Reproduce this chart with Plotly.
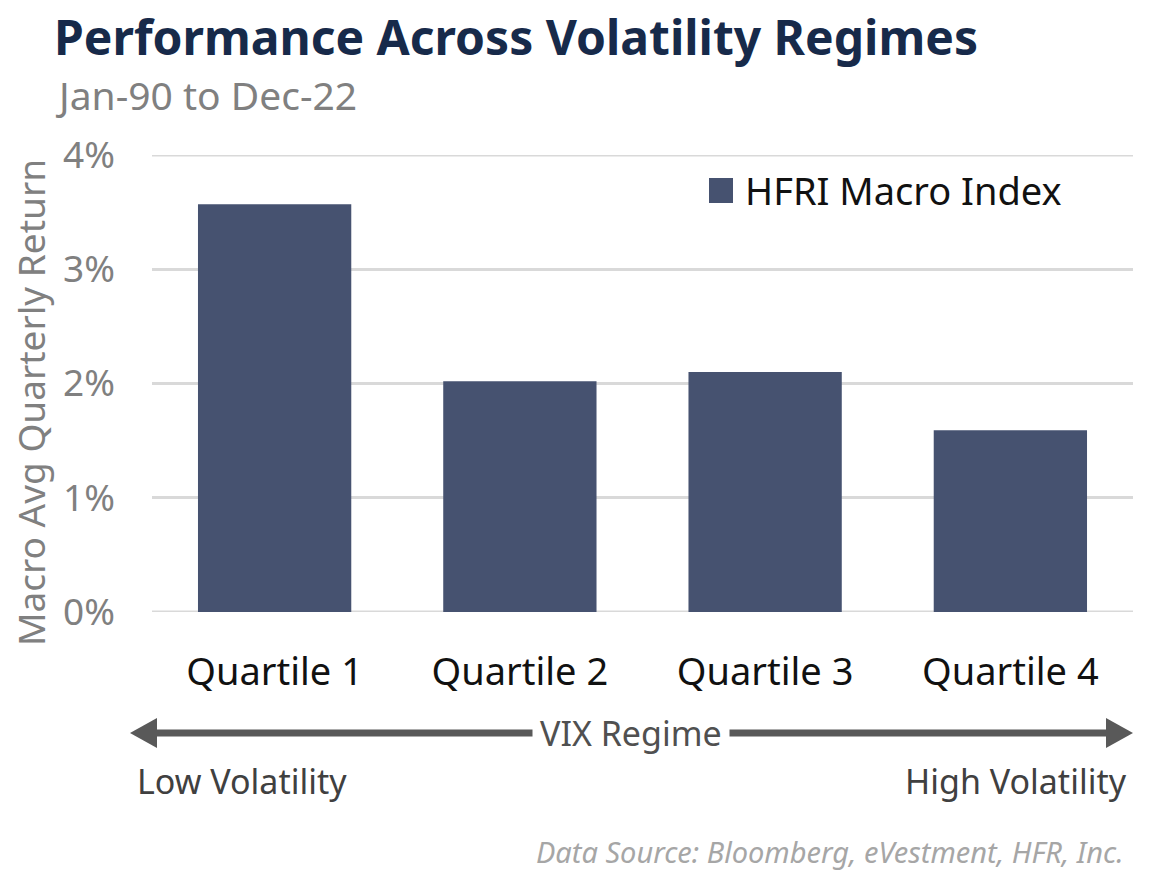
import plotly.graph_objects as go

categories = ["Quartile 1", "Quartile 2", "Quartile 3", "Quartile 4"]
macro_returns = [3.57, 2.02, 2.10, 1.59]  # percent
y_ticks = [0, 1, 2, 3, 4]
y_tick_labels = ["0%", "1%", "2%", "3%", "4%"]
series_name = "HFRI Macro Index"

W, H = 1151, 892
L, R, T, B = 152, 18, 155, 280
PW, PH = W - L - R, H - T - B

def px(x):
    return (x - L) / PW

def py(y):
    return (H - B - y) / PH

FONT = "Noto Sans"
BAR = "#465270"
GRID = "#d9d9d9"

fig = go.Figure()
fig.add_trace(go.Bar(
    x=categories, y=macro_returns, name=series_name,
    marker=dict(color=BAR, line=dict(width=0)), showlegend=False,
))

shapes = []
# edge gridlines (0% and 4%) which plotly hides at the range ends
for v in (y_ticks[0], y_ticks[-1]):
    shapes.append(dict(type="line", xref="paper", yref="y", x0=0, x1=1, y0=v, y1=v,
                       layer="below", line=dict(color=GRID, width=3)))
# arrow line
ay = 733
shapes.append(dict(type="line", xref="paper", yref="paper",
                   x0=px(150), x1=px(1113), y0=py(ay), y1=py(ay),
                   line=dict(color="#595959", width=7)))
for tip, base in [(130, 157), (1133, 1106)]:
    path = (f"M {px(tip)} {py(ay)} L {px(base)} {py(ay-15)} "
            f"L {px(base)} {py(ay+15)} Z")
    shapes.append(dict(type="path", xref="paper", yref="paper", path=path,
                       fillcolor="#595959", line=dict(width=0)))
# legend swatch
shapes.append(dict(type="rect", xref="paper", yref="paper",
                   x0=px(709), x1=px(733), y0=py(178), y1=py(203),
                   fillcolor=BAR, line=dict(width=0)))

annotations = [
    dict(text="<b>Performance Across Volatility Regimes</b>", xref="paper", yref="paper",
         x=px(52), y=py(37), xanchor="left", yanchor="middle", showarrow=False,
         font=dict(family=FONT, size=48, color="#172a4a")),
    dict(text="Jan-90 to Dec-22", xref="paper", yref="paper",
         x=px(53), y=py(94), xanchor="left", yanchor="middle", showarrow=False,
         font=dict(family=FONT, size=39, color="#808080")),
    dict(text="Macro Avg Quarterly Return", xref="paper", yref="paper",
         x=px(30), y=py(403), xanchor="center", yanchor="middle", showarrow=False,
         textangle=-90, font=dict(family=FONT, size=37, color="#808080")),
    dict(text=series_name, xref="paper", yref="paper",
         x=px(743), y=py(190), xanchor="left", yanchor="middle", showarrow=False,
         font=dict(family=FONT, size=38, color="#111111")),
    dict(text="VIX Regime", xref="paper", yref="paper",
         x=px(631), y=py(ay), xanchor="center", yanchor="middle", showarrow=False,
         bgcolor="white", borderpad=7,
         font=dict(family=FONT, size=34, color="#505050")),
    dict(text="Low Volatility", xref="paper", yref="paper",
         x=px(135), y=py(781), xanchor="left", yanchor="middle", showarrow=False,
         font=dict(family=FONT, size=34, color="#404040")),
    dict(text="High Volatility", xref="paper", yref="paper",
         x=px(1129), y=py(781), xanchor="right", yanchor="middle", showarrow=False,
         font=dict(family=FONT, size=34, color="#404040")),
    dict(text="<i>Data Source: Bloomberg, eVestment, HFR, Inc.</i>", xref="paper", yref="paper",
         x=px(1126), y=py(851), xanchor="right", yanchor="middle", showarrow=False,
         font=dict(family=FONT, size=29, color="#a6a6a6")),
]

fig.update_layout(
    width=W, height=H,
    margin=dict(l=L, r=R, t=T, b=B, autoexpand=False),
    paper_bgcolor="white", plot_bgcolor="white",
    bargap=0.375,
    showlegend=False,
    xaxis=dict(range=[-0.5, 3.5], showgrid=False, showline=False, zeroline=False,
               ticks="", tickfont=dict(family=FONT, size=38, color="#111111"),
               ticklabelstandoff=34),
    yaxis=dict(range=[0, 4], tickvals=y_ticks, ticktext=y_tick_labels,
               showgrid=True, gridcolor=GRID, gridwidth=3,
               zeroline=False, showline=False, ticks="",
               tickfont=dict(family=FONT, size=37, color="#808080"),
               ticklabelstandoff=36),
    shapes=shapes,
    annotations=annotations,
)

fig.write_html("out.html")
